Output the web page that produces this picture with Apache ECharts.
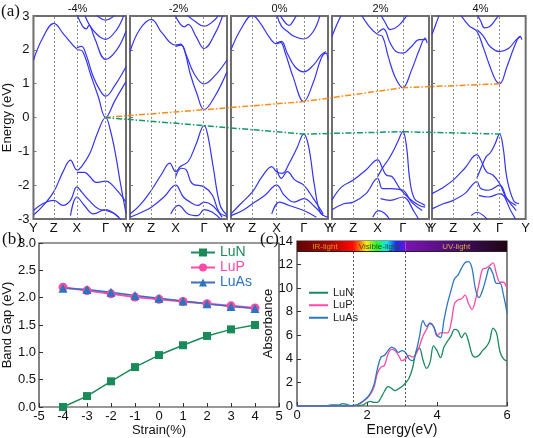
<!DOCTYPE html>
<html>
<head>
<meta charset="utf-8">
<script src="https://cdn.jsdelivr.net/npm/echarts@6.0.0/dist/echarts.min.js"></script>
<style>
  html, body { margin: 0; padding: 0; background: #fff; }
  #chart { width: 533px; height: 438px; }
</style>
</head>
<body>
<div id="chart"></div>
<script>
// ---------- (a) band structures ----------
const strainLabels = ['-4%', '-2%', '0%', '2%', '4%'];
const kLabels = ['Y', 'Z', 'X', 'Γ', 'Y'];
// high-symmetry points along the k-path (fraction of path), one row per strain
const kPoints = [
  [0, 0.22, 0.47, 0.78, 1],
  [0, 0.22, 0.47, 0.764, 1],
  [0, 0.22, 0.47, 0.75, 1],
  [0, 0.22, 0.47, 0.73, 1],
  [0, 0.226, 0.479, 0.722, 1]
];

const bandsM4 = [
  [[0,1.70],[0.1,2.35],[0.22,2.78],[0.33,2.45],[0.47,2.02],[0.53,1.96],[0.62,1.25],[0.70,0.62],[0.78,0.0],[0.88,0.5],[1.0,1.06]],
  [[0.47,2.06],[0.52,2.1],[0.57,1.85],[0.64,1.25],[0.72,0.8],[0.78,0.63],[0.88,0.95],[1.0,1.5]],
  [[0.47,3.05],[0.53,2.7],[0.57,2.62],[0.6,2.72],[0.66,2.35],[0.78,1.72],[0.9,2.0],[1.0,2.55]],
  [[0.55,3.05],[0.64,2.6],[0.78,2.31],[0.9,2.6],[0.98,3.05]],
  [[0.67,3.05],[0.78,2.88],[0.89,3.05]],
  [[0,-2.88],[0.1,-2.62],[0.22,-2.19],[0.32,-1.6],[0.40,-1.26],[0.47,-1.55],[0.52,-1.45],[0.61,-1.06],[0.69,-0.47],[0.78,0.0],[0.83,-0.37],[0.885,-1.06],[0.94,-1.95],[1.0,-2.83]],
  [[0.47,-1.62],[0.55,-1.62],[0.6,-1.72],[0.68,-1.92],[0.78,-1.88],[0.87,-2.05],[1.0,-2.5]],
  [[0,-2.75],[0.1,-2.55],[0.22,-2.45],[0.32,-2.6],[0.4,-2.45],[0.47,-2.05],[0.52,-2.2],[0.6,-2.45],[0.7,-2.7],[0.78,-2.75],[0.88,-2.85],[0.95,-3.05]],
  [[0.4,-2.9],[0.47,-2.35],[0.55,-2.6],[0.65,-2.85],[0.78,-2.72],[0.88,-2.85],[0.95,-3.05]]
];
const bandsM2 = [
  [[0,1.95],[0.1,2.6],[0.22,2.9],[0.33,2.5],[0.47,2.14],[0.52,2.17],[0.56,2.0],[0.62,1.3],[0.69,0.7],[0.764,0.23],[0.88,0.65],[1.0,1.35]],
  [[0.47,2.1],[0.53,2.14],[0.58,1.85],[0.66,1.3],[0.764,0.99],[0.88,1.25],[1.0,1.7]],
  [[0.46,3.05],[0.52,2.75],[0.56,2.68],[0.6,2.75],[0.68,2.4],[0.764,2.04],[0.88,2.5],[0.96,3.05]],
  [[0.58,3.05],[0.68,2.82],[0.764,2.7],[0.86,2.85],[0.92,3.05]],
  [[0,-2.85],[0.1,-2.6],[0.22,-2.15],[0.32,-1.7],[0.41,-1.35],[0.47,-1.6],[0.52,-1.45],[0.6,-1.3],[0.68,-0.8],[0.764,-0.24],[0.8,-0.5],[0.86,-1.5],[0.93,-2.6],[1.0,-2.88]],
  [[0.47,-1.75],[0.53,-1.5],[0.58,-1.55],[0.64,-1.95],[0.764,-2.05],[0.85,-2.3],[0.92,-2.8],[1.0,-2.92]],
  [[0,-2.95],[0.12,-2.8],[0.22,-2.65],[0.35,-2.35],[0.47,-2.0],[0.55,-2.35],[0.62,-2.5],[0.7,-2.6],[0.764,-2.5],[0.85,-2.6],[0.95,-2.95]],
  [[0.42,-2.85],[0.5,-2.6],[0.6,-2.85],[0.7,-2.9],[0.764,-2.72],[0.85,-2.8],[0.95,-3.05]]
];
const bands0 = [
  [[0,2.0],[0.1,2.6],[0.22,3.02],[0.3,2.8],[0.4,2.35],[0.47,2.18],[0.51,2.22],[0.56,1.9],[0.64,1.2],[0.75,0.47],[0.85,1.05],[0.93,1.75],[0.98,1.9],[1.0,1.7]],
  [[0.47,2.2],[0.52,2.25],[0.58,1.9],[0.66,1.5],[0.75,1.35],[0.85,1.55],[0.93,1.85],[0.98,1.95]],
  [[0.47,3.05],[0.52,2.7],[0.58,2.55],[0.65,2.4],[0.75,2.32],[0.85,2.55],[0.92,3.05]],
  [[0.5,3.05],[0.56,2.8],[0.6,2.72],[0.64,2.85],[0.68,3.05]],
  [[0,-2.85],[0.1,-2.55],[0.22,-2.2],[0.32,-1.75],[0.42,-1.45],[0.47,-1.6],[0.53,-1.65],[0.6,-1.35],[0.68,-0.9],[0.75,-0.49],[0.8,-0.85],[0.86,-2.0],[0.92,-2.8],[1.0,-2.95]],
  [[0.47,-1.5],[0.52,-1.8],[0.58,-1.6],[0.66,-1.85],[0.75,-2.0],[0.85,-2.4],[0.95,-2.85]],
  [[0,-2.9],[0.12,-2.75],[0.22,-2.55],[0.35,-2.3],[0.47,-2.0],[0.55,-2.3],[0.65,-2.5],[0.75,-2.4],[0.85,-2.6],[0.95,-2.9]],
  [[0.42,-2.85],[0.5,-2.5],[0.6,-2.6],[0.75,-2.75],[0.88,-2.95]]
];
const bandsP2 = [
  [[0,2.4],[0.05,2.75],[0.1,3.05]],
  [[0.3,3.05],[0.38,2.7],[0.47,2.45],[0.52,2.4],[0.58,1.8],[0.65,1.2],[0.73,0.88],[0.82,1.4],[0.9,2.0],[0.96,2.35],[0.98,2.2]],
  [[0.47,2.5],[0.53,2.62],[0.6,2.2],[0.66,1.95],[0.73,1.9],[0.82,2.1],[0.9,2.3],[0.97,2.3]],
  [[0.5,3.05],[0.55,2.8],[0.6,2.6],[0.68,2.7],[0.78,3.05]],
  [[0,-2.44],[0.1,-2.05],[0.22,-1.85],[0.35,-1.55],[0.47,-1.25],[0.52,-1.5],[0.56,-1.7],[0.62,-1.75],[0.7,-2.1],[0.8,-2.4],[0.9,-2.6],[0.96,-2.65]],
  [[0.47,-1.75],[0.53,-1.45],[0.58,-1.25],[0.63,-1.0],[0.68,-0.7],[0.73,-0.42],[0.77,-0.9],[0.8,-1.8],[0.85,-2.4],[0.93,-2.55],[0.96,-2.6]],
  [[0,-2.73],[0.12,-2.55],[0.22,-2.5],[0.35,-2.25],[0.47,-1.8],[0.52,-2.1],[0.6,-2.1],[0.73,-2.15],[0.82,-2.5],[0.93,-2.75]],
  [[0.42,-2.95],[0.48,-2.75],[0.55,-2.85],[0.6,-3.05]],
  [[0.5,-2.4],[0.6,-2.45],[0.73,-2.35],[0.85,-2.8],[0.9,-3.05]]
];
const bandsP4 = [
  [[0,2.45],[0.04,2.75],[0.08,3.05]],
  [[0.3,3.05],[0.4,2.7],[0.479,2.55],[0.55,2.05],[0.62,1.5],[0.68,1.1],[0.722,1.0],[0.8,1.5],[0.88,2.1],[0.94,2.4],[0.96,2.3]],
  [[0.479,2.6],[0.55,2.4],[0.62,2.1],[0.722,1.95],[0.82,2.05],[0.9,2.3],[0.95,2.4]],
  [[0.479,3.05],[0.52,2.85],[0.56,2.65],[0.62,2.7],[0.68,2.9],[0.72,3.05]],
  [[0,-2.25],[0.1,-2.1],[0.226,-1.85],[0.35,-1.5],[0.479,-1.1],[0.52,-1.25],[0.58,-1.6],[0.65,-1.7],[0.722,-1.95],[0.8,-2.4],[0.9,-2.6]],
  [[0.479,-1.8],[0.53,-1.45],[0.58,-1.15],[0.62,-1.05],[0.67,-0.8],[0.722,-0.49],[0.76,-0.9],[0.8,-1.8],[0.87,-2.45],[0.93,-2.55]],
  [[0,-2.7],[0.12,-2.55],[0.226,-2.45],[0.35,-2.25],[0.479,-1.9],[0.52,-2.1],[0.6,-2.15],[0.722,-2.0],[0.8,-2.4],[0.9,-2.75]],
  [[0.42,-2.9],[0.48,-2.8],[0.55,-2.9],[0.6,-3.05]],
  [[0.5,-2.3],[0.6,-2.35],[0.722,-2.25],[0.85,-2.8],[0.9,-3.05]]
];

// band edges at Gamma for each strain (eV)
const cbmGamma = [0.0, 0.23, 0.47, 0.88, 1.0];
const vbmGamma = [0.0, -0.24, -0.49, -0.42, -0.49];

// ---------- (b) band gap vs strain ----------
const strain = [-4, -3, -2, -1, 0, 1, 2, 3, 4];
const gapLuN = [0.0, 0.2, 0.47, 0.73, 0.95, 1.13, 1.3, 1.42, 1.5];
const gapLuP = [2.19, 2.13, 2.07, 2.01, 1.97, 1.93, 1.89, 1.85, 1.81];
const gapLuAs = [2.17, 2.15, 2.1, 2.04, 1.99, 1.94, 1.89, 1.84, 1.8];

// ---------- (c) absorbance ----------
const energy = [0.0,0.1,0.2,0.3,0.4,0.5,0.6,0.7,0.8,0.9,1.0,1.1,1.2,1.3,1.4,1.5,1.6,1.7,1.8,1.9,
  2.0,2.1,2.2,2.3,2.4,2.5,2.6,2.7,2.8,2.9,3.0,3.1,3.2,3.3,3.4,3.5,3.6,3.7,3.8,3.9,
  4.0,4.1,4.2,4.3,4.4,4.5,4.6,4.7,4.8,4.9,5.0,5.1,5.2,5.3,5.4,5.5,5.6,5.7,5.8,5.9,6.0];
const absLuN = [0,0,0,0,0,0,0,0,0,0.05,0.1,0.1,0.08,0.2,0.15,0.05,0.02,0.03,0.05,0.1,
  0.3,0.4,0.3,0.3,0.7,1.25,1.65,1.5,1.3,1.45,1.65,1.95,2.35,3.2,4.55,4.9,3.9,3.2,3.7,5.1,
  4.7,4.1,5.0,5.5,5.95,6.5,6.4,5.8,6.2,5.5,4.4,4.15,4.3,4.7,5.0,5.5,6.6,6.2,4.6,4.0,3.8];
const absLuP = [0,0,0,0,0,0,0,0,0,0,0,0,0,0,0,0,0.03,0.08,0.2,0.4,
  0.65,1.0,1.6,2.8,3.3,3.45,4.4,4.8,4.7,4.3,3.85,4.0,4.3,4.15,4.4,5.1,5.95,6.5,7.05,6.75,
  5.95,6.2,6.2,6.2,7.0,8.7,9.0,9.1,9.4,8.7,8.2,9.0,10.35,11.6,11.7,11.9,12.15,11.2,10.5,10.5,9.95];
const absLuAs = [0,0,0,0,0,0,0,0,0,0,0,0,0,0,0,0.02,0.05,0.1,0.25,0.45,
  0.7,1.1,1.8,3.2,4.15,4.3,4.7,5.0,4.85,4.55,4.7,4.55,4.0,3.85,4.6,5.9,7.25,6.75,7.0,6.75,
  6.0,5.8,7.3,8.7,9.8,10.8,11.1,11.7,12.15,12.25,11.7,9.9,9.2,9.8,10.8,11.75,11.2,10.4,10.4,9.4,7.9];
// light-region boundaries (eV)
const lightEdges = [0, 1.6, 3.1, 6];
const lightNames = ['IR-light', 'Visible-light', 'UV-light'];

const FONT = 'Liberation Sans, Arial, sans-serif';
const chart = echarts.init(document.getElementById('chart'));

const panelLeft = [29, 130, 231, 332, 432];
const panelW = 97, panelTop = 16, panelH = 203;
const allBands = [bandsM4, bandsM2, bands0, bandsP2, bandsP4];

const grids = [], xAxes = [], yAxes = [], series = [];

allBands.forEach((bands, i) => {
  const kp = kPoints[i];
  grids.push({ left: panelLeft[i], top: panelTop, width: panelW, height: panelH,
    show: true, borderColor: '#6e6e6e', borderWidth: 2, backgroundColor: 'transparent' });
  xAxes.push({
    gridIndex: i, type: 'value', min: 0, max: 1,
    axisLine: { show: false, onZero: false }, axisTick: { show: false }, splitLine: { show: false },
    axisLabel: {
      customValues: kp,
      formatter: (v) => {
        let best = 0;
        kp.forEach((p, j) => { if (Math.abs(p - v) < Math.abs(kp[best] - v)) best = j; });
        return kLabels[best];
      },
      fontSize: 13, color: '#111', margin: 3, fontFamily: FONT
    }
  });
  yAxes.push({
    gridIndex: i, type: 'value', min: -3, max: 3, interval: 1,
    axisLine: { show: false, onZero: false }, splitLine: { show: false },
    axisTick: { show: true, inside: true, length: 3, lineStyle: { color: '#777' } },
    axisLabel: { show: i === 0, fontSize: 13, color: '#111', margin: 4, fontFamily: FONT },
    name: i === 0 ? 'Energy (eV)' : '', nameLocation: 'middle', nameGap: 17,
    nameTextStyle: { fontSize: 13, color: '#111', fontFamily: FONT }
  });
  bands.forEach((b, j) => {
    const s = {
      type: 'line', xAxisIndex: i, yAxisIndex: i, data: b, showSymbol: false, symbol: 'none',
      smooth: 0.4, silent: true, lineStyle: { color: '#3434f2', width: 1.2 }
    };
    if (j === 0) {
      s.markLine = {
        silent: true, symbol: 'none', label: { show: false },
        lineStyle: { color: '#8a8a8a', type: [2, 2], width: 1 },
        data: kp.slice(1, 4).map(v => ({ xAxis: v }))
      };
    }
    series.push(s);
  });
});

// overlay grid for the band-edge guide lines across the five panels
const overlayW = panelLeft[4] + panelW - panelLeft[0];
grids.push({ left: panelLeft[0], top: panelTop, width: overlayW, height: panelH });
xAxes.push({ gridIndex: 5, type: 'value', min: 0, max: overlayW, show: false });
yAxes.push({ gridIndex: 5, type: 'value', min: -3, max: 3, show: false });
const gammaX = kPoints.map((kp, i) => panelLeft[i] - panelLeft[0] + panelW * kp[3]);
series.push({
  type: 'line', xAxisIndex: 5, yAxisIndex: 5, symbol: 'none', silent: true, z: 5,
  data: cbmGamma.map((e, i) => [gammaX[i], e]),
  lineStyle: { color: '#ff8a12', width: 1.5, type: [6, 2, 1.5, 2] }
});
series.push({
  type: 'line', xAxisIndex: 5, yAxisIndex: 5, symbol: 'none', silent: true, z: 5,
  data: vbmGamma.map((e, i) => [gammaX[i], e]),
  lineStyle: { color: '#129a6c', width: 1.5, type: [6, 2, 1.5, 2] }
});

// ---------- (b) ----------
grids.push({ left: 39, top: 243, width: 240, height: 168, show: true, borderColor: '#333', borderWidth: 1.2 });
xAxes.push({
  gridIndex: 6, type: 'value', min: -5, max: 5, interval: 1,
  axisLine: { show: false, onZero: false }, splitLine: { show: false },
  axisTick: { inside: true, length: 4, lineStyle: { color: '#333' } },
  axisLabel: { fontSize: 13, color: '#111', margin: 3, fontFamily: FONT },
  name: 'Strain(%)', nameLocation: 'middle', nameGap: 17,
  nameTextStyle: { fontSize: 13, color: '#111', fontFamily: FONT }
});
yAxes.push({
  gridIndex: 6, type: 'value', min: 0, max: 3, interval: 0.5,
  axisLine: { show: false, onZero: false }, splitLine: { show: false },
  axisTick: { inside: true, length: 4, lineStyle: { color: '#333' } },
  axisLabel: { fontSize: 13, color: '#111', margin: 3, fontFamily: FONT, formatter: v => v.toFixed(1) },
  name: 'Band Gap (eV)', nameLocation: 'middle', nameGap: 25,
  nameTextStyle: { fontSize: 13, color: '#111', fontFamily: FONT }
});
series.push({
  name: 'LuN', type: 'line', xAxisIndex: 6, yAxisIndex: 6,
  data: strain.map((s, i) => [s, gapLuN[i]]),
  symbol: 'rect', symbolSize: 8, itemStyle: { color: '#1b8a5a' },
  lineStyle: { color: '#1b8a5a', width: 1.5 }
});
series.push({
  name: 'LuP', type: 'line', xAxisIndex: 6, yAxisIndex: 6,
  data: strain.map((s, i) => [s, gapLuP[i]]),
  symbol: 'circle', symbolSize: 9, itemStyle: { color: '#ff4aa8' },
  lineStyle: { color: '#ff4aa8', width: 2 }
});
series.push({
  name: 'LuAs', type: 'line', xAxisIndex: 6, yAxisIndex: 6,
  data: strain.map((s, i) => [s, gapLuAs[i]]),
  symbol: 'triangle', symbolSize: 9, itemStyle: { color: '#2c74bd' },
  lineStyle: { color: '#3a6fc4', width: 1.5 }
});

// ---------- (c) ----------
grids.push({ left: 297, top: 241, width: 210, height: 169, show: true, borderColor: '#333', borderWidth: 1.2 });
xAxes.push({
  gridIndex: 7, type: 'value', min: 0, max: 6, interval: 2,
  axisLine: { show: false, onZero: false }, splitLine: { show: false },
  axisTick: { inside: true, length: 4, lineStyle: { color: '#333' } },
  axisLabel: { fontSize: 13, color: '#111', margin: 3, fontFamily: FONT },
  name: 'Energy(eV)', nameLocation: 'middle', nameGap: 17,
  nameTextStyle: { fontSize: 14, color: '#111', fontFamily: FONT }
});
yAxes.push({
  gridIndex: 7, type: 'value', min: 0, max: 14, interval: 2,
  axisLine: { show: false, onZero: false }, splitLine: { show: false },
  axisTick: { inside: true, length: 4, lineStyle: { color: '#333' } },
  axisLabel: { fontSize: 13, color: '#111', margin: 4, fontFamily: FONT },
  name: 'Absorbance', nameLocation: 'middle', nameGap: 22,
  nameTextStyle: { fontSize: 13, color: '#111', fontFamily: FONT }
});

const barBottom = 13.1;
const lightGradients = [
  [[0, '#5e0606'], [0.6, '#b00000'], [1, '#ff0a00']],
  [[0, '#ff0a00'], [0.12, '#ff6a00'], [0.25, '#ffee00'], [0.45, '#20ff30'], [0.65, '#00e8ff'], [0.82, '#1030ff'], [1, '#6a10d8']],
  [[0, '#7a14b4'], [0.35, '#5a0f86'], [0.75, '#30093c'], [1, '#1e0614']]
];
const lightTextColors = ['#d4a010', '#4a4000', '#d6b040'];

series.push({
  name: 'abs-LuN', type: 'line', xAxisIndex: 7, yAxisIndex: 7, symbol: 'none', smooth: 0.35,
  data: energy.map((e, i) => [e, absLuN[i]]),
  lineStyle: { color: '#1b8a5a', width: 1.3 }, itemStyle: { color: '#1b8a5a' },
  markArea: {
    silent: true,
    data: lightNames.map((n, i) => [
      {
        name: n, coord: [lightEdges[i], barBottom],
        itemStyle: {
          color: { type: 'linear', x: 0, y: 0, x2: 1, y2: 0,
            colorStops: lightGradients[i].map(([o, c]) => ({ offset: o, color: c })) },
          borderWidth: 0
        },
        label: { show: true, position: 'inside', color: lightTextColors[i], fontSize: 8, fontFamily: FONT }
      },
      { coord: [lightEdges[i + 1], 14] }
    ])
  },
  markLine: {
    silent: true, symbol: 'none', label: { show: false },
    lineStyle: { color: '#222', type: 'solid', width: 1 },
    data: [[{ coord: [0, barBottom] }, { coord: [6, barBottom] }]]
  }
});
series.push({
  name: 'abs-LuP', type: 'line', xAxisIndex: 7, yAxisIndex: 7, symbol: 'none', smooth: 0.35,
  data: energy.map((e, i) => [e, absLuP[i]]),
  lineStyle: { color: '#ff4aa8', width: 1.3 }, itemStyle: { color: '#ff4aa8' },
  markLine: {
    silent: true, symbol: 'none', label: { show: false },
    lineStyle: { color: '#555', type: [2, 2], width: 1 },
    data: lightEdges.slice(1, 3).map(v => [{ coord: [v, 0] }, { coord: [v, barBottom] }])
  }
});
series.push({
  name: 'abs-LuAs', type: 'line', xAxisIndex: 7, yAxisIndex: 7, symbol: 'none', smooth: 0.35,
  data: energy.map((e, i) => [e, absLuAs[i]]),
  lineStyle: { color: '#2a78c0', width: 1.3 }, itemStyle: { color: '#2a78c0' }
});

const option = {
  animation: false,
  backgroundColor: '#fff',
  textStyle: { fontFamily: FONT },
  grid: grids,
  xAxis: xAxes,
  yAxis: yAxes,
  legend: [
    {
      left: 185, top: 240, orient: 'vertical', itemWidth: 24, itemHeight: 10, itemGap: 0,
      textStyle: { fontSize: 14, lineHeight: 15, fontFamily: FONT },
      data: [
        { name: 'LuN', textStyle: { color: '#1b8a5a' } },
        { name: 'LuP', textStyle: { color: '#ff4aa8' } },
        { name: 'LuAs', textStyle: { color: '#2c74bd' } }
      ]
    },
    {
      left: 304, top: 282, orient: 'vertical', icon: 'rect', itemWidth: 19, itemHeight: 2, itemGap: 1,
      textStyle: { fontSize: 11, lineHeight: 11.5, color: '#222', fontFamily: FONT },
      formatter: n => n.replace('abs-', ''),
      data: ['abs-LuN', 'abs-LuP', 'abs-LuAs']
    }
  ],
  graphic: [
    { type: 'text', left: 1, top: 3, style: { text: '(a)', font: '17px "Liberation Serif", serif', fill: '#111' } },
    { type: 'text', left: 2, top: 231, style: { text: '(b)', font: '17px "Liberation Serif", serif', fill: '#111' } },
    { type: 'text', left: 260, top: 231, style: { text: '(c)', font: '17px "Liberation Serif", serif', fill: '#111' } }
  ].concat(strainLabels.map((t, i) => ({
    type: 'text', x: panelLeft[i] + panelW / 2, y: 3,
    style: { text: t, font: '11px ' + FONT, fill: '#111', align: 'center', verticalAlign: 'top' }
  }))),
  series: series
};
chart.setOption(option);
</script>
</body>
</html>
